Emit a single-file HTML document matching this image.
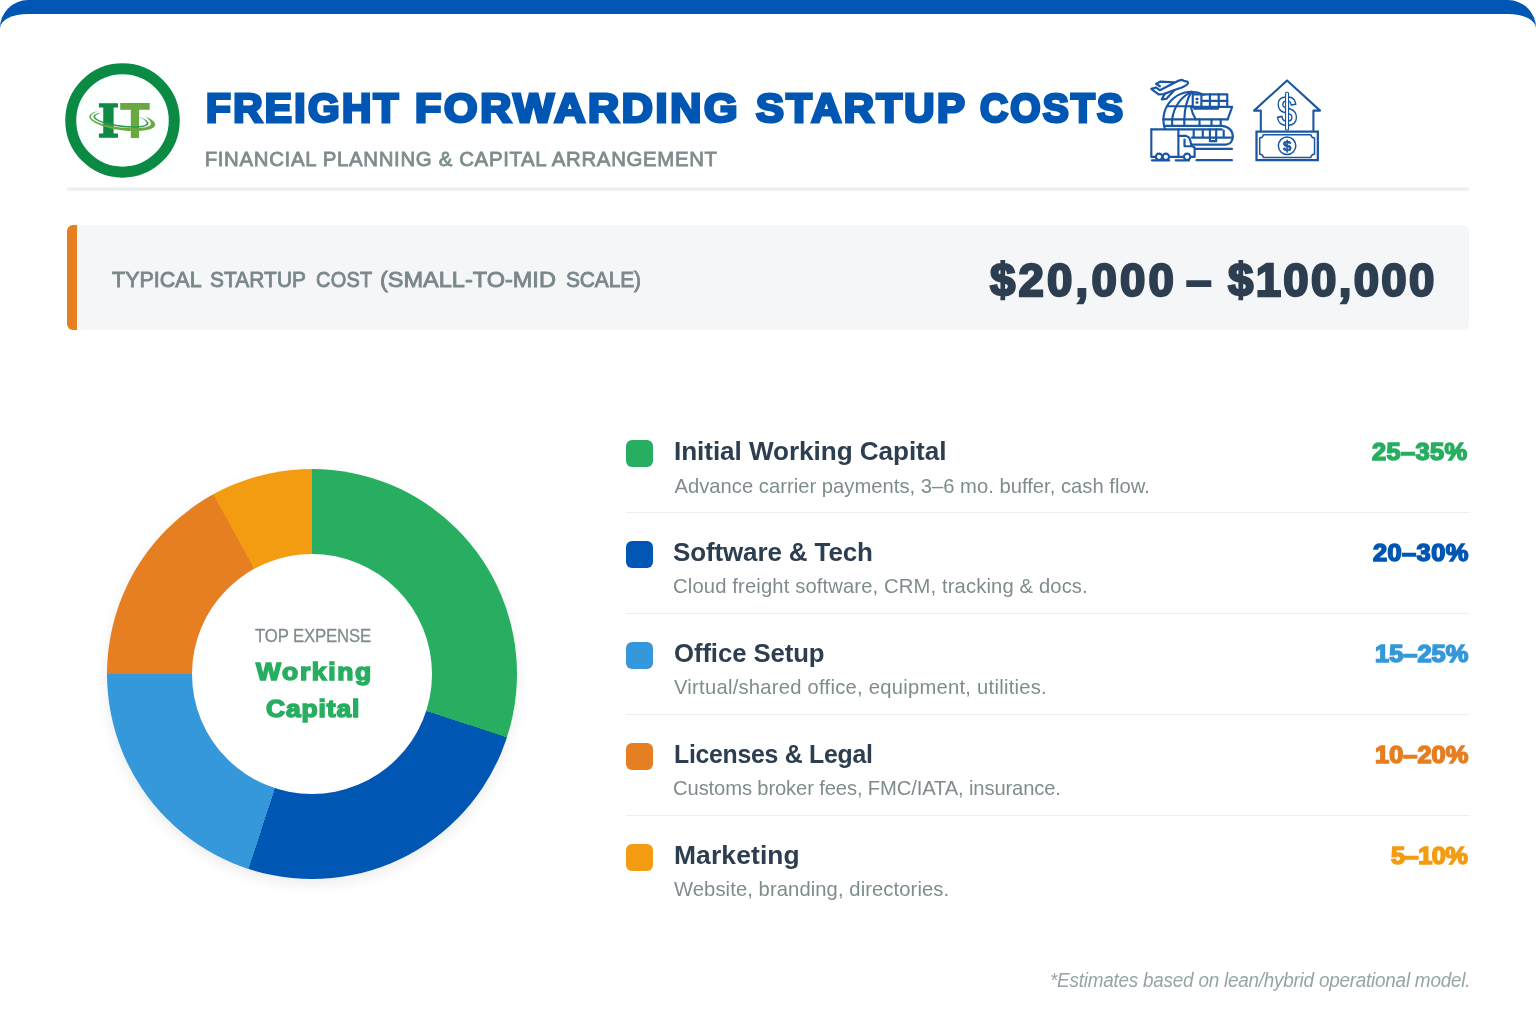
<!DOCTYPE html>
<html lang="en">
<head>
<meta charset="utf-8">
<title>Freight Forwarding Startup Costs</title>
<style>
html,body{margin:0;padding:0;background:#ffffff;}
body{width:1536px;height:1024px;position:relative;overflow:hidden;font-family:"Liberation Sans",sans-serif;}
.card{position:absolute;left:0;top:0;width:1536px;height:1024px;box-sizing:border-box;border-top:14px solid #0056b3;border-radius:28px;background:#ffffff;}
h1,h2,h3,p,ul,li{margin:0;padding:0;font:inherit;list-style:none;}
.t{position:absolute;white-space:nowrap;line-height:1;margin:0;padding:0;}
.hr{position:absolute;left:67px;top:187px;width:1402px;height:4px;background:linear-gradient(#f6f7f8 0 1px,#eceef1 1px 3px,#f2f3f5 3px 4px);}
.cost{position:absolute;left:67px;top:225px;width:1402px;height:105px;box-sizing:border-box;background:#f4f6f8;border-left:10px solid #e67e22;border-radius:6px;}
.donut{position:absolute;left:107px;top:469px;width:410px;height:410px;border-radius:50%;
 background:conic-gradient(#27ae60 0 30%,#0056b3 30% 55%,#3498db 55% 75%,#e67e22 75% 92%,#f39c12 92% 100%);
 box-shadow:0 5px 14px rgba(0,0,0,0.08);}
.hole{position:absolute;left:192px;top:554px;width:240px;height:240px;border-radius:50%;background:#ffffff;}
.sw{position:absolute;left:626px;width:27px;height:27px;border-radius:6px;}
.ln{position:absolute;left:626px;width:843px;height:1.5px;background:#eceef0;}
svg{position:absolute;overflow:visible;}
</style>
</head>
<body>
<main class="card"></main>

<header>
<svg id="logo" style="left:60px;top:56px" width="128" height="128" viewBox="0 0 1024 1024">
  <circle cx="500" cy="515" r="414" fill="#fbfffd" stroke="#0b8a43" stroke-width="88"/>
  <text x="387" y="647" text-anchor="middle" font-family="'DejaVu Serif','Liberation Serif',serif" font-weight="700" font-size="359" fill="#0f8a45" stroke="#0f8a45" stroke-width="12" stroke-linejoin="miter" transform="translate(387 0) scale(1.04 1) translate(-387 0)">I</text>
  <text x="600" y="654" text-anchor="middle" font-family="'DejaVu Sans','Liberation Sans',sans-serif" font-weight="700" font-size="381" fill="#6aa842" transform="translate(600 0) scale(0.92 1) translate(-600 0)">T</text>
  <g transform="translate(498 517) rotate(7.5)">
    <path d="M -197.7 -51.5 L -211.2 -46.8 L -223.5 -41.8 L -234.3 -36.5 L -243.6 -30.9 L -251.3 -25.2 L -257.5 -19.3 L -262.0 -13.3 L -264.8 -7.2 L -266.0 -1.1 L -265.4 5.1 L -263.2 11.2 L -259.3 17.2 L -253.7 23.1 L -246.5 28.9 L -237.8 34.5 L -227.5 39.9 L -215.8 45.0 L -202.7 49.9 L -188.3 54.4 L -172.7 58.6 L -156.0 62.4 L -138.3 65.8 L -119.7 68.8 L -100.4 71.3 L -80.4 73.4 L -59.9 75.0 L -39.0 76.2 L -17.9 76.8 L 3.3 77.0 L 24.5 76.7 L 45.6 75.9 L 66.3 74.6 L 86.7 72.8 L 106.5 70.6 L 125.6 67.9 L 143.9 64.8 L 161.3 61.2 L 177.6 57.3 L 192.9 53.0 L 206.9 48.4 L 219.6 43.5 L 230.8 38.3 L 240.6 32.8 L 248.9 27.1 L 255.6 21.3 L 260.7 15.3 L 264.1 9.3 L 265.8 3.1 L 265.8 -3.0 L 264.1 -9.1 L 260.8 -15.2 L 255.7 -21.2 L 249.1 -27.0 L 240.8 -32.7 L 231.1 -38.1 L 219.8 -43.4 L 207.2 -48.3 L 193.2 -52.9 L 178.0 -57.2 L 178.0 -57.2 L 190.0 -50.2 L 200.3 -43.3 L 208.9 -36.7 L 215.7 -30.3 L 220.9 -24.3 L 224.3 -18.7 L 227.8 -14.0 L 230.1 -9.6 L 230.8 -5.5 L 229.9 -1.7 L 229.1 1.8 L 228.2 5.4 L 225.9 9.0 L 222.1 12.6 L 216.9 16.3 L 210.2 19.9 L 202.2 23.5 L 192.9 27.1 L 182.4 30.6 L 170.6 34.0 L 157.6 37.2 L 143.6 40.3 L 128.5 43.2 L 112.5 45.9 L 95.7 48.4 L 78.1 50.5 L 60.0 52.4 L 41.3 54.0 L 22.3 55.3 L 3.0 56.2 L -16.4 56.6 L -35.8 56.5 L -55.1 56.1 L -74.0 55.3 L -92.6 54.2 L -110.7 52.7 L -128.1 50.8 L -144.8 48.5 L -160.7 45.9 L -175.5 43.0 L -189.3 39.7 L -202.0 36.1 L -213.4 32.2 L -223.5 28.1 L -232.2 23.7 L -239.4 19.1 L -245.2 14.3 L -249.4 9.3 L -252.0 4.3 L -253.1 -0.9 L -252.7 -6.2 L -250.8 -11.5 L -247.1 -16.9 L -241.9 -22.3 L -235.1 -27.6 L -227.9 -33.4 L -219.4 -39.4 L -209.3 -45.5 L -197.7 -51.5 Z" fill="#6aa842"/>
    <path d="M -165.2 -44.3 L -177.8 -41.0 L -189.3 -37.4 L -199.5 -33.6 L -208.5 -29.6 L -216.2 -25.4 L -222.5 -21.1 L -227.3 -16.6 L -230.7 -12.1 L -232.6 -7.5 L -233.0 -2.9 L -231.9 1.7 L -229.3 6.2 L -225.2 10.7 L -219.7 15.1 L -212.7 19.4 L -204.4 23.5 L -194.8 27.4 L -184.0 31.1 L -172.0 34.6 L -158.9 37.8 L -144.8 40.7 L -129.8 43.3 L -113.9 45.6 L -97.4 47.6 L -80.4 49.2 L -62.8 50.5 L -44.9 51.3 L -26.7 51.9 L -8.5 52.0 L 9.7 51.8 L 27.8 51.1 L 45.6 50.1 L 63.1 48.8 L 80.0 47.1 L 96.3 45.0 L 111.9 42.6 L 126.7 39.9 L 140.5 36.9 L 153.4 33.6 L 165.1 30.1 L 175.6 26.3 L 184.8 22.4 L 192.8 18.2 L 199.3 13.9 L 204.4 9.5 L 208.1 5.0 L 210.3 0.4 L 211.0 -4.2 L 210.2 -8.8 L 207.9 -13.3 L 204.1 -17.8 L 198.9 -22.2 L 192.2 -26.5 L 184.2 -30.7 L 174.9 -34.6 L 164.3 -38.4 L 152.5 -41.9 L 139.6 -45.1 L 125.7 -48.1 L 125.7 -48.1 L 138.4 -44.0 L 149.9 -39.8 L 160.1 -35.5 L 169.0 -31.2 L 176.5 -26.9 L 182.8 -22.8 L 188.3 -19.0 L 192.4 -15.1 L 195.0 -11.4 L 196.2 -7.7 L 196.0 -4.1 L 195.3 -0.6 L 193.3 2.8 L 189.9 6.3 L 185.1 9.6 L 179.0 12.9 L 171.6 16.0 L 163.0 19.0 L 153.2 21.9 L 142.3 24.6 L 130.3 27.1 L 117.4 29.3 L 103.6 31.4 L 89.1 33.2 L 73.9 34.8 L 58.1 36.1 L 41.8 37.1 L 25.2 37.8 L 8.3 38.3 L -8.7 38.5 L -25.7 38.4 L -42.6 38.1 L -59.3 37.5 L -75.7 36.5 L -91.7 35.4 L -107.1 33.9 L -121.9 32.2 L -136.0 30.2 L -149.2 28.0 L -161.5 25.6 L -172.7 23.0 L -182.9 20.1 L -191.9 17.2 L -199.8 14.0 L -206.3 10.8 L -211.5 7.4 L -215.4 3.9 L -217.9 0.4 L -218.9 -3.2 L -219.2 -6.8 L -218.1 -10.4 L -215.7 -14.2 L -211.8 -18.0 L -206.6 -21.8 L -200.5 -25.9 L -193.8 -30.4 L -185.7 -35.0 L -176.1 -39.6 L -165.2 -44.3 Z" fill="#2f9a52"/>
  </g>
</svg>
  <h1><span class="t" id="t1" style="left:205.54px;top:88.29px;font-size:41px;font-weight:700;color:#0056b3;letter-spacing:2.397px;-webkit-text-stroke:3.0px #0056b3;transform:scaleX(0.99);transform-origin:0 0;">FREIGHT</span> <span class="t" id="t2" style="left:414.96px;top:88.29px;font-size:41px;font-weight:700;color:#0056b3;letter-spacing:2.576px;-webkit-text-stroke:3.0px #0056b3;transform:scaleX(1.05);transform-origin:0 0;">FORWARDING</span> <span class="t" id="t3" style="left:755.64px;top:88.29px;font-size:41px;font-weight:700;color:#0056b3;letter-spacing:2.363px;-webkit-text-stroke:3.0px #0056b3;transform:scaleX(1.02);transform-origin:0 0;">STARTUP</span> <span class="t" id="t4" style="left:980.29px;top:88.29px;font-size:41px;font-weight:700;color:#0056b3;letter-spacing:2.297px;-webkit-text-stroke:3.0px #0056b3;transform:scaleX(0.95);transform-origin:0 0;">COSTS</span></h1>
  <p><span class="t" id="sub" style="left:204.66px;top:148.73px;font-size:20.4px;font-weight:400;color:#7f8c8d;letter-spacing:0.666px;-webkit-text-stroke:0.8px #7f8c8d;">FINANCIAL PLANNING &amp; CAPITAL ARRANGEMENT</span></p>
<svg id="ic1" style="left:1144px;top:72px" width="96" height="96" viewBox="0 0 1024 1024" fill="none" stroke="#1a57a3" stroke-width="23" stroke-linecap="round" stroke-linejoin="round">
  <!-- plane -->
  <path d="M 78 180 L 128 165 L 170 195 L 330 112 Q 375 85 405 84 Q 425 100 462 102 Q 482 120 452 140 L 405 165 L 325 193 L 210 236 L 155 238 Z"/>
  <path d="M 130 125 L 178 102 L 320 110"/>
  <path d="M 133 128 L 170 152"/>
  <path d="M 325 193 L 240 285 L 190 292 L 222 232"/>
  <!-- globe -->
  <path d="M 221 600 A 298 298 0 0 1 640 244"/>
  <path d="M 505 212 Q 330 300 300 505"/>
  <path d="M 505 212 Q 435 330 430 505"/>
  <path d="M 250 365 L 520 365"/>
  <!-- ship -->
  <path d="M 520 215 L 520 372"/>
  <path d="M 520 238 L 888 238 L 888 370"/>
  <path d="M 612 238 L 612 372 M 703 238 L 703 372 M 797 238 L 797 372 M 612 308 L 888 308"/>
  <path d="M 562 288 L 568 288 M 562 325 L 568 325" stroke-width="28"/>
  <path d="M 500 372 L 940 372 L 892 505"/>
  <path d="M 535 392 L 790 392"/>
  <path d="M 500 372 Q 515 450 552 505"/>
  <!-- bridge lines -->
  <path d="M 205 505 L 892 505"/>
  <path d="M 215 575 L 830 575 Q 945 590 948 690 Q 945 765 870 775 L 512 775"/>
  <path d="M 300 505 L 300 575 M 430 505 L 430 575 M 592 505 L 592 575 M 720 505 L 720 575 M 818 505 L 818 575"/>
  <!-- train -->
  <path d="M 80 612 L 830 612"/>
  <path d="M 512 700 L 940 700"/>
  <path d="M 530 625 L 530 690 M 627 625 L 627 690 M 850 625 L 850 690"/>
  <path d="M 703 612 L 703 738 L 770 738 L 770 612"/>
  <!-- rails -->
  <path d="M 548 820 L 938 820 M 560 940 L 938 940"/>
  <!-- truck -->
  <path d="M 78 612 L 78 905 L 122 905 M 270 905 L 420 905"/>
  <path d="M 367 612 L 367 900"/>
  <path d="M 367 682 L 450 682 Q 485 690 492 725 L 508 790 L 540 805 L 540 905 L 500 905"/>
  <path d="M 432 722 L 432 792 L 508 792"/>
  <circle cx="160" cy="905" r="34"/><circle cx="233" cy="905" r="34"/><circle cx="460" cy="905" r="34"/>
  <path d="M 85 942 L 270 942 M 338 942 L 480 942"/>
</svg>
<svg id="ic2" style="left:1240px;top:72px" width="96" height="96" viewBox="0 0 1024 1024" fill="none" stroke="#1a57a3" stroke-width="22" stroke-linecap="round" stroke-linejoin="miter">
  <path d="M 222 622 L 222 412 L 150 412 L 502 90 L 854 412 L 783 412 L 783 622" stroke-linejoin="round"/>
  <rect x="176" y="636" width="654" height="304" stroke-width="24"/>
  <path d="M 250 668 L 755 668 Q 760 700 795 705 L 795 875 Q 760 880 755 912 L 250 912 Q 245 880 210 875 L 210 705 Q 245 700 250 668 Z" stroke-width="16"/>
  <circle cx="502" cy="787" r="93" stroke-width="16"/>
  <text x="502" y="842" text-anchor="middle" font-family="'Liberation Sans',sans-serif" font-weight="700" font-size="160" fill="#1a57a3" stroke="#1a57a3" stroke-width="7">$</text>
  <text x="502" y="572" text-anchor="middle" font-family="'Liberation Sans',sans-serif" font-weight="700" font-size="455" fill="#ffffff" stroke="#1a57a3" stroke-width="17" stroke-linejoin="round" transform="translate(502 0) scale(0.84 1) translate(-502 0)">$</text>
  <rect x="486" y="216" width="32" height="402" rx="10" fill="#ffffff" stroke-width="12"/>
</svg>
  <div class="hr"></div>
</header>

<section class="summary">
  <div class="cost"></div>
  <p><span class="t" id="cl1" style="left:112.34px;top:267.50px;font-size:22.8px;font-weight:400;color:#7a878b;letter-spacing:0.042px;-webkit-text-stroke:0.9px #7a878b;transform:scaleX(0.94);transform-origin:0 0;">TYPICAL</span> <span class="t" id="cl2" style="left:209.56px;top:267.50px;font-size:22.8px;font-weight:400;color:#7a878b;letter-spacing:0.109px;-webkit-text-stroke:0.9px #7a878b;transform:scaleX(0.915);transform-origin:0 0;">STARTUP</span> <span class="t" id="cl3" style="left:316.49px;top:267.50px;font-size:22.8px;font-weight:400;color:#7a878b;letter-spacing:0.276px;-webkit-text-stroke:0.9px #7a878b;transform:scaleX(0.875);transform-origin:0 0;">COST</span> <span class="t" id="cl4" style="left:380.48px;top:267.50px;font-size:22.8px;font-weight:400;color:#7a878b;letter-spacing:0.014px;-webkit-text-stroke:0.9px #7a878b;transform:scaleX(1.03);transform-origin:0 0;">(SMALL-TO-MID</span> <span class="t" id="cl5" style="left:565.56px;top:267.50px;font-size:22.8px;font-weight:400;color:#7a878b;letter-spacing:-0.073px;-webkit-text-stroke:0.9px #7a878b;transform:scaleX(0.915);transform-origin:0 0;">SCALE)</span></p>
  <p><span class="t" id="a1" style="left:989.65px;top:256.21px;font-size:47px;font-weight:700;color:#2c3e50;letter-spacing:3.268px;-webkit-text-stroke:2.4px #2c3e50;transform:scaleX(0.97);transform-origin:0 0;">$20,000</span> <span class="t" id="a2" style="left:1186.04px;top:256.21px;font-size:47px;font-weight:700;color:#2c3e50;letter-spacing:0.000px;-webkit-text-stroke:2.2px #2c3e50;transform:scaleX(0.98);transform-origin:0 0;">–</span> <span class="t" id="a3" style="left:1228.43px;top:256.21px;font-size:47px;font-weight:700;color:#2c3e50;letter-spacing:2.387px;-webkit-text-stroke:2.4px #2c3e50;transform:scaleX(0.97);transform-origin:0 0;">$100,000</span></p>
</section>

<section class="chart">
  <div class="donut"></div>
  <div class="hole"></div>
  <p><span class="t" id="d1" style="left:254.81px;top:627.16px;font-size:18.6px;font-weight:400;color:#7f8c8d;letter-spacing:-0.138px;-webkit-text-stroke:0.3px #7f8c8d;transform:scaleX(0.9);transform-origin:0 0;">TOP EXPENSE</span></p>
  <p><span class="t" id="d2" style="left:255.64px;top:660.18px;font-size:24px;font-weight:700;color:#27ae60;letter-spacing:1.516px;-webkit-text-stroke:1.5px #27ae60;transform:scaleX(1.1);transform-origin:0 0;">Working</span> <span class="t" id="d3" style="left:266.09px;top:697.18px;font-size:24px;font-weight:700;color:#27ae60;letter-spacing:0.807px;-webkit-text-stroke:1.5px #27ae60;transform:scaleX(1.1);transform-origin:0 0;">Capital</span></p>
</section>

<ul class="legend">
  <li>
    <div class="sw" style="top:439.8px;background:#27ae60"></div>
    <h3><span class="t" id="lt0" style="left:674.10px;top:438.05px;font-size:26.4px;font-weight:700;color:#2c3e50;letter-spacing:-0.065px;transform:scaleX(0.99);transform-origin:0 0;">Initial Working Capital</span></h3>
    <p><span class="t" id="ld0" style="left:674.49px;top:475.80px;font-size:20.2px;font-weight:400;color:#7f8c8d;letter-spacing:0.021px;">Advance carrier payments, 3–6 mo. buffer, cash flow.</span></p>
    <strong><span class="t" id="lp0" style="left:1372.45px;top:441.45px;font-size:23.1px;font-weight:700;color:#27ae60;letter-spacing:0.358px;-webkit-text-stroke:1.5px #27ae60;transform:scaleX(1.1);transform-origin:0 0;">25–35%</span></strong>
    <div class="ln" style="top:511.8px"></div>
  </li>
  <li>
    <div class="sw" style="top:540.8px;background:#0056b3"></div>
    <h3><span class="t" id="lt1" style="left:673.44px;top:539.05px;font-size:26.4px;font-weight:700;color:#2c3e50;letter-spacing:-0.132px;transform:scaleX(0.985);transform-origin:0 0;">Software &amp; Tech</span></h3>
    <p><span class="t" id="ld1" style="left:673.11px;top:576.20px;font-size:20.2px;font-weight:400;color:#7f8c8d;letter-spacing:0.141px;">Cloud freight software, CRM, tracking &amp; docs.</span></p>
    <strong><span class="t" id="lp1" style="left:1372.84px;top:542.45px;font-size:23.1px;font-weight:700;color:#0056b3;letter-spacing:0.367px;-webkit-text-stroke:1.5px #0056b3;transform:scaleX(1.1);transform-origin:0 0;">20–30%</span></strong>
    <div class="ln" style="top:612.8px"></div>
  </li>
  <li>
    <div class="sw" style="top:641.8px;background:#3498db"></div>
    <h3><span class="t" id="lt2" style="left:673.50px;top:640.05px;font-size:26.4px;font-weight:700;color:#2c3e50;letter-spacing:-0.097px;transform:scaleX(0.975);transform-origin:0 0;">Office Setup</span></h3>
    <p><span class="t" id="ld2" style="left:673.99px;top:677.00px;font-size:20.2px;font-weight:400;color:#7f8c8d;letter-spacing:0.256px;">Virtual/shared office, equipment, utilities.</span></p>
    <strong><span class="t" id="lp2" style="left:1374.54px;top:643.45px;font-size:23.1px;font-weight:700;color:#3498db;letter-spacing:0.009px;-webkit-text-stroke:1.5px #3498db;transform:scaleX(1.1);transform-origin:0 0;">15–25%</span></strong>
    <div class="ln" style="top:713.8px"></div>
  </li>
  <li>
    <div class="sw" style="top:742.8px;background:#e67e22"></div>
    <h3><span class="t" id="lt3" style="left:674.47px;top:741.05px;font-size:26.4px;font-weight:700;color:#2c3e50;letter-spacing:-0.270px;transform:scaleX(0.94);transform-origin:0 0;">Licenses &amp; Legal</span></h3>
    <p><span class="t" id="ld3" style="left:673.11px;top:778.00px;font-size:20.2px;font-weight:400;color:#7f8c8d;letter-spacing:-0.130px;">Customs broker fees, FMC/IATA, insurance.</span></p>
    <strong><span class="t" id="lp3" style="left:1374.54px;top:744.45px;font-size:23.1px;font-weight:700;color:#e67e22;letter-spacing:0.009px;-webkit-text-stroke:1.5px #e67e22;transform:scaleX(1.1);transform-origin:0 0;">10–20%</span></strong>
    <div class="ln" style="top:814.8px"></div>
  </li>
  <li>
    <div class="sw" style="top:843.8px;background:#f39c12"></div>
    <h3><span class="t" id="lt4" style="left:674.00px;top:842.05px;font-size:26.4px;font-weight:700;color:#2c3e50;letter-spacing:0.134px;">Marketing</span></h3>
    <p><span class="t" id="ld4" style="left:674.01px;top:878.60px;font-size:20.2px;font-weight:400;color:#7f8c8d;letter-spacing:0.093px;">Website, branding, directories.</span></p>
    <strong><span class="t" id="lp4" style="left:1390.78px;top:845.45px;font-size:23.1px;font-weight:700;color:#f39c12;letter-spacing:-0.493px;-webkit-text-stroke:1.5px #f39c12;transform:scaleX(1.1);transform-origin:0 0;">5–10%</span></strong>
  </li>
</ul>

<footer><p><span class="t" id="fn" style="left:1050.37px;top:971.08px;font-size:19.4px;font-weight:400;color:#95a5a6;letter-spacing:-0.241px;font-style:italic;transform:scaleX(0.975);transform-origin:0 0;">*Estimates based on lean/hybrid operational model.</span></p></footer>
</body>
</html>
